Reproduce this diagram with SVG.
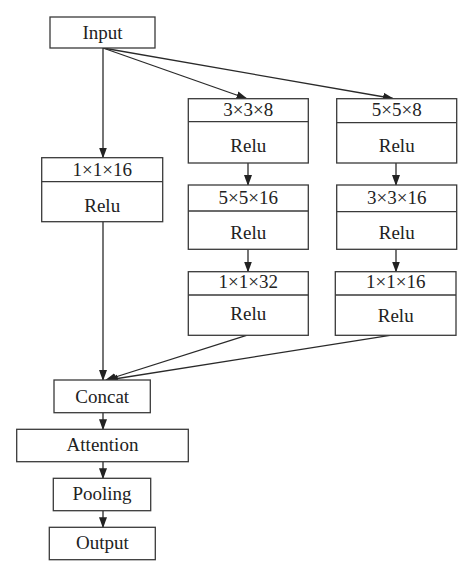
<svg xmlns="http://www.w3.org/2000/svg" width="474" height="577" viewBox="0 0 474 577">
<style>
.b{fill:#fff;stroke:#3a3a3a;stroke-width:1.3}
.d{stroke:#3a3a3a;stroke-width:1.3}
.c{fill:none;stroke:#2a2a2a;stroke-width:1.3}
text{font-family:"Liberation Serif","Times New Roman",serif;font-size:19px;fill:#222;text-anchor:middle}
</style>
<defs>
<marker id="ah" markerUnits="userSpaceOnUse" markerWidth="11" markerHeight="9" refX="10" refY="4.5" orient="auto">
<path d="M0,0.5 L11,4.5 L0,8.5 Z" fill="#222"/>
</marker>
</defs>
<rect width="474" height="577" fill="#fff"/>
<g id="connectors">
<line class="c" x1="103" y1="48" x2="103" y2="157.5" marker-end="url(#ah)"/>
<line class="c" x1="103" y1="48" x2="246.5" y2="98.5" marker-end="url(#ah)"/>
<line class="c" x1="103" y1="48" x2="393" y2="98.5" marker-end="url(#ah)"/>
<line class="c" x1="248" y1="163" x2="248" y2="185" marker-end="url(#ah)"/>
<line class="c" x1="248" y1="249.3" x2="248" y2="271.5" marker-end="url(#ah)"/>
<line class="c" x1="396" y1="163" x2="396" y2="185" marker-end="url(#ah)"/>
<line class="c" x1="396" y1="249.3" x2="396" y2="271.5" marker-end="url(#ah)"/>
<line class="c" x1="103" y1="221.7" x2="103" y2="380" marker-end="url(#ah)"/>
<line class="c" x1="246.5" y1="335.3" x2="106" y2="380" marker-end="url(#ah)"/>
<line class="c" x1="390" y1="335.3" x2="108" y2="380" marker-end="url(#ah)"/>
<line class="c" x1="103" y1="412.7" x2="103" y2="429.3" marker-end="url(#ah)"/>
<line class="c" x1="103" y1="461.7" x2="103" y2="478.3" marker-end="url(#ah)"/>
<line class="c" x1="103" y1="510.7" x2="103" y2="527.3" marker-end="url(#ah)"/>
</g>
<g id="input">
<rect class="b" x="50" y="17" width="105" height="31"/>
<text x="102.5" y="38.5">Input</text>
</g>
<g id="b1">
<rect class="b" x="41.7" y="157.7" width="121" height="64"/>
<line class="d" x1="41.7" y1="181.7" x2="162.7" y2="181.7"/>
<text x="102.2" y="175.7">1×1×16</text>
<text x="102.2" y="212">Relu</text>
</g>
<g id="b2a">
<rect class="b" x="188.3" y="98.7" width="120" height="64.3"/>
<line class="d" x1="188.3" y1="121.7" x2="308.3" y2="121.7"/>
<text x="248.3" y="115.7">3×3×8</text>
<text x="248.3" y="151.5">Relu</text>
</g>
<g id="b2b">
<rect class="b" x="188.3" y="185" width="120" height="64.3"/>
<line class="d" x1="188.3" y1="211" x2="308.3" y2="211"/>
<text x="248.3" y="204">5×5×16</text>
<text x="248.3" y="239">Relu</text>
</g>
<g id="b2c">
<rect class="b" x="188.3" y="271.7" width="120" height="63.6"/>
<line class="d" x1="188.3" y1="295" x2="308.3" y2="295"/>
<text x="248.3" y="288">1×1×32</text>
<text x="248.3" y="320">Relu</text>
</g>
<g id="b3a">
<rect class="b" x="336.7" y="98.7" width="120" height="64.3"/>
<line class="d" x1="336.7" y1="122.7" x2="456.7" y2="122.7"/>
<text x="396.7" y="115.7">5×5×8</text>
<text x="396.7" y="151.5">Relu</text>
</g>
<g id="b3b">
<rect class="b" x="336.7" y="185" width="120" height="64.3"/>
<line class="d" x1="336.7" y1="211.7" x2="456.7" y2="211.7"/>
<text x="396.7" y="204">3×3×16</text>
<text x="396.7" y="239">Relu</text>
</g>
<g id="b3c">
<rect class="b" x="335.3" y="271.7" width="120.7" height="63.6"/>
<line class="d" x1="335.3" y1="295" x2="456" y2="295"/>
<text x="395.7" y="288">1×1×16</text>
<text x="395.7" y="322">Relu</text>
</g>
<g id="concat">
<rect class="b" x="54" y="380" width="96.3" height="32.7"/>
<text x="102.2" y="403">Concat</text>
</g>
<g id="attention">
<rect class="b" x="16.7" y="429.3" width="171.6" height="32.4"/>
<text x="102.5" y="451">Attention</text>
</g>
<g id="pooling">
<rect class="b" x="53.3" y="478.3" width="97.4" height="32.4"/>
<text x="102" y="500">Pooling</text>
</g>
<g id="output">
<rect class="b" x="49.3" y="527.3" width="106" height="32.4"/>
<text x="102.3" y="549">Output</text>
</g>
</svg>
